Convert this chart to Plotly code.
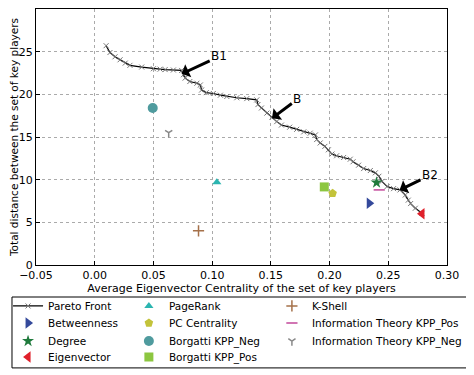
import plotly.graph_objects as go

# Pareto front (x: avg eigenvector centrality, y: total distance)
pareto_x = [0.0097, 0.013, 0.0173, 0.0216, 0.026, 0.030, 0.040, 0.050, 0.0557, 0.060, 0.067, 0.074,
            0.0756, 0.077, 0.081, 0.087, 0.090, 0.091, 0.095, 0.101, 0.107, 0.1125, 0.121, 0.1295,
            0.138, 0.139, 0.142, 0.1466, 0.151, 0.155, 0.159, 0.166, 0.172, 0.178, 0.1835, 0.188,
            0.189, 0.192, 0.196, 0.199, 0.202, 0.206, 0.212, 0.2176, 0.220, 0.2247, 0.229, 0.2347,
            0.239, 0.242, 0.2446, 0.249, 0.2545, 0.260, 0.2645, 0.267, 0.269, 0.273, 0.2787]
pareto_y = [25.7, 24.9, 24.4, 24.05, 23.66, 23.4, 23.2, 23.0, 22.95, 22.9, 22.85, 22.8,
            22.3, 21.9, 21.5, 21.3, 21.1, 20.5, 20.2, 20.1, 19.9, 19.75, 19.6, 19.5,
            19.35, 18.8, 18.4, 17.8, 17.3, 16.8, 16.4, 16.15, 15.9, 15.6, 15.45, 15.25,
            14.7, 14.3, 13.9, 13.5, 13.0, 12.8, 12.6, 12.4, 12.1, 11.7, 11.3, 11.07,
            10.8, 10.4, 9.8, 9.2, 8.95, 8.8, 8.2, 7.6, 7.2, 6.65, 6.06]

# Individual methods
method_names = ["Betweenness", "Degree", "Eigenvector", "PageRank", "PC Centrality",
                "Borgatti KPP_Neg", "Borgatti KPP_Pos", "K-Shell",
                "Information Theory KPP_Pos", "Information Theory KPP_Neg"]
method_x = [0.2338, 0.240, 0.2787, 0.104, 0.2026, 0.0494, 0.1955, 0.0884, 0.2423, 0.063]
method_y = [7.23, 9.66, 6.0, 9.7, 8.4, 18.4, 9.15, 4.0, 8.8, 15.5]

# Annotations
annot_labels = ["B1", "B", "B2"]
annot_head_x = [0.0741, 0.151, 0.2597]
annot_head_y = [22.4, 17.2, 8.8]
annot_text_x = [0.106, 0.1725, 0.2855]
annot_text_y = [24.45, 19.4, 10.5]

styles = {
    "Betweenness": dict(symbol="triangle-right", color="#34499b", size=10),
    "Degree": dict(symbol="star", color="#1f7a3c", size=9),
    "Eigenvector": dict(symbol="triangle-left", color="#e0202a", size=10),
    "PageRank": dict(symbol="triangle-up", color="#2bb5b0", size=8),
    "PC Centrality": dict(symbol="pentagon", color="#c3c33a", size=9),
    "Borgatti KPP_Neg": dict(symbol="circle", color="#4f9b9e", size=10),
    "Borgatti KPP_Pos": dict(symbol="square", color="#8cc640", size=9),
    "K-Shell": dict(symbol="cross-thin", color="#a5714a", size=8),
    "Information Theory KPP_Pos": dict(symbol="line-ew", color="#c2479a", size=8),
    "Information Theory KPP_Neg": dict(symbol="y-down", color="#888888", size=6),
}

# legend grid (column, row) as in the reference (3 columns, filled column-wise)
legend_cell = {"Pareto Front": (0, 0), "Betweenness": (0, 1), "Degree": (0, 2), "Eigenvector": (0, 3),
               "PageRank": (1, 0), "PC Centrality": (1, 1), "Borgatti KPP_Neg": (1, 2),
               "Borgatti KPP_Pos": (1, 3), "K-Shell": (2, 0),
               "Information Theory KPP_Pos": (2, 1), "Information Theory KPP_Neg": (2, 2)}
col_x = [-0.068, 0.226, 0.574]
row_y = [-0.160, -0.2266, -0.297, -0.359]

fig = go.Figure()
legend_layout = {}
font_family = "DejaVu Sans"


def legend_key(i):
    return "legend" if i == 1 else f"legend{i}"


def add_legend(i, name):
    c, r = legend_cell[name]
    legend_layout[legend_key(i)] = dict(
        orientation="v", bgcolor="rgba(0,0,0,0)", borderwidth=0,
        font=dict(family=font_family, size=10.5, color="black"),
        xanchor="left", yanchor="middle", x=col_x[c], y=row_y[r],
        itemwidth=30, tracegroupgap=0)


fig.add_trace(go.Scatter(
    x=pareto_x, y=pareto_y, mode="lines+markers", name="Pareto Front",
    line=dict(color="black", width=1.2),
    marker=dict(symbol="x-thin", size=5, color="#777", line=dict(color="#777", width=1)),
    legend="legend"))
add_legend(1, "Pareto Front")

for i, (name, xv, yv) in enumerate(zip(method_names, method_x, method_y), start=2):
    s = styles[name]
    open_sym = s["symbol"] in ("cross-thin", "line-ew", "y-down")
    marker = dict(symbol=s["symbol"], size=s["size"], color=s["color"])
    if open_sym:
        marker["line"] = dict(color=s["color"], width=1.5)
    fig.add_trace(go.Scatter(x=[xv], y=[yv], mode="markers", name=name,
                             marker=marker, legend=legend_key(i)))
    add_legend(i, name)

for lab, hx, hy, tx, ty in zip(annot_labels, annot_head_x, annot_head_y, annot_text_x, annot_text_y):
    fig.add_annotation(x=hx, y=hy, ax=tx, ay=ty, axref="x", ayref="y", xref="x", yref="y",
                       text=lab, showarrow=True, arrowhead=1, arrowsize=0.8, arrowwidth=3,
                       arrowcolor="black", font=dict(size=12, color="black"))

fig.update_layout(
    width=466, height=367, autosize=False,
    margin=dict(l=28, r=27, t=1, b=110, autoexpand=False),
    paper_bgcolor="white", plot_bgcolor="white",
    font=dict(family=font_family, size=11, color="black"),
    showlegend=True,
    xaxis=dict(range=[-0.05, 0.30], dtick=0.05, tickformat=".2f", automargin=False,
               showgrid=True, gridcolor="#aaaaaa", griddash="dot", gridwidth=1,
               showline=True, linecolor="black", linewidth=1, mirror=True,
               ticks="inside", ticklen=4, tickcolor="black", zeroline=False,
               tickfont=dict(size=11),
               title=dict(text="Average Eigenvector Centrality of the set of key players",
                          font=dict(size=11), standoff=0)),
    yaxis=dict(range=[0, 30], dtick=5, automargin=False,
               showgrid=True, gridcolor="#aaaaaa", griddash="dot", gridwidth=1,
               showline=True, linecolor="black", linewidth=1, mirror=True,
               ticks="inside", ticklen=4, tickcolor="black", zeroline=False,
               tickfont=dict(size=11),
               title=dict(text="Total distance between the set of key players",
                          font=dict(size=10.5), standoff=0)),
    shapes=[dict(type="rect", xref="paper", yref="paper",
                 x0=-0.0584, x1=1.0608, y0=-0.402, y1=-0.125,
                 line=dict(color="black", width=1), fillcolor="rgba(0,0,0,0)")],
    **legend_layout,
)

fig.write_html("out.html")
